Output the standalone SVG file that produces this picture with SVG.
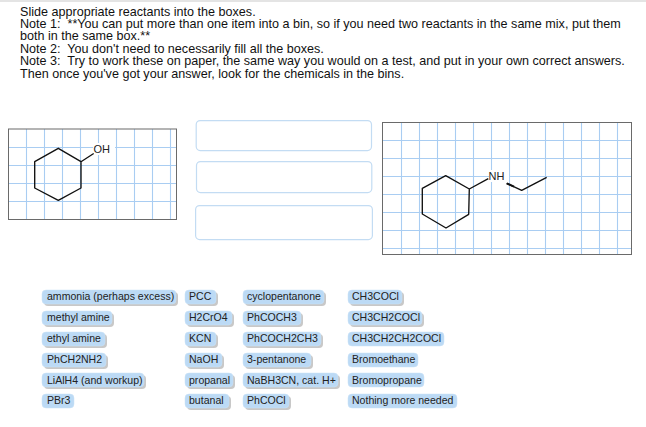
<svg xmlns="http://www.w3.org/2000/svg" width="646" height="427" viewBox="0 0 646 427">
<style>
text{font-family:"Liberation Sans",Arial,sans-serif;fill:#111}
.n{font-size:12.58px}
.c{font-size:10.55px;fill:#222}
.l{font-size:11px;fill:#222}
.f{fill:#bcdaf5;stroke:#cbe2f7;stroke-width:.5}
.s{fill:#b0b0b0;opacity:.7}
.b{fill:#fff;stroke:#c3dcf3;stroke-width:1.2}
.g{stroke:#a9cdf2;stroke-width:1.1;fill:none}
.o{fill:none;stroke:#6a6a6a;stroke-width:1}
.m{fill:none;stroke:#111;stroke-width:1.35;stroke-linejoin:round}
</style>
<defs>
<path id="g1" class="g" d="M26.5 129V219M44.5 129V219M62.5 129V219M80.5 129V219M98.5 129V219M116.5 129V219M134.5 129V219M152.5 129V219M170.5 129V219M8 147.5H176M8 165.5H176M8 183.5H176M8 201.5H176"/>
<path id="g2" class="g" d="M401.5 122V254M419.5 122V254M437.5 122V254M455.5 122V254M473.5 122V254M491.5 122V254M509.5 122V254M527.5 122V254M545.5 122V254M563.5 122V254M581.5 122V254M599.5 122V254M617.5 122V254M382 140.5H632M382 158.5H632M382 176.5H632M382 194.5H632M382 212.5H632M382 230.5H632M382 248.5H632"/>
</defs>
<rect width="646" height="427" fill="#fff"/>
<rect width="646" height="2" fill="#e4e4e4"/>
<g id="instructions">
<text class="n" x="20" y="15.5">Slide appropriate reactants into the boxes.</text>
<text class="n" x="20" y="27.9">Note 1:&#160; **You can put more than one item into a bin, so if you need two reactants in the same mix, put them</text>
<text class="n" x="20" y="40.3">both in the same box.**</text>
<text class="n" x="20" y="52.7">Note 2:&#160; You don't need to necessarily fill all the boxes.</text>
<text class="n" x="20" y="65.1">Note 3:&#160; Try to work these on paper, the same way you would on a test, and put in your own correct answers.</text>
<text class="n" x="20" y="77.5">Then once you've got your answer, look for the chemicals in the bins.</text>
</g>
<g id="reactant">
<use href="#g1"/>
<rect class="o" x="8.5" y="129" width="168" height="90.5"/>
<rect x="93" y="143" width="22" height="12" fill="#fff"/>
<path class="m" d="M58.3 148.3L81 161.7V188L58.3 200.3L34.7 188V161.7ZM81 161.7L93.7 153.5"/>
<text class="l" x="93.5" y="153">OH</text>
</g>
<g id="box1"><rect class="b" x="196.2" y="120.6" width="175.3" height="30" rx="4"/></g>
<g id="box2"><rect class="b" x="196.5" y="161.6" width="175.3" height="31" rx="4"/></g>
<g id="box3"><rect class="b" x="195.6" y="205.6" width="176.8" height="34" rx="4"/></g>
<g id="product">
<use href="#g2"/>
<rect class="o" x="382.5" y="122.5" width="249" height="132"/>
<rect x="489" y="170" width="20" height="12" fill="#fff"/>
<path class="m" d="M445.7 175.7L469.3 189L468.7 214.3L446 228L422.3 214V188.3ZM469.3 189L488.3 178.6M506.7 183.3L521.7 190.3L546.7 177.3"/>
<path d="M506.7 183.3L514 186.7" stroke="#111" stroke-width="2" fill="none"/>
<text class="l" x="488.5" y="180">NH</text>
</g>
<g id="chips">
<g id="c1"><rect class="s" x="44" y="292" width="134" height="14" rx="4"/><rect class="f" x="42" y="290" width="134" height="14" rx="4"/><text class="c" x="47" y="300">ammonia (perhaps excess)</text></g>
<g id="c2"><rect class="s" x="44" y="313" width="70" height="14" rx="4"/><rect class="f" x="42" y="311" width="70" height="14" rx="4"/><text class="c" x="47" y="321">methyl amine</text></g>
<g id="c3"><rect class="s" x="44" y="334" width="63" height="14" rx="4"/><rect class="f" x="42" y="332" width="63" height="14" rx="4"/><text class="c" x="47" y="342">ethyl amine</text></g>
<g id="c4"><rect class="s" x="44" y="355" width="64" height="14" rx="4"/><rect class="f" x="42" y="353" width="64" height="14" rx="4"/><text class="c" x="47" y="363">PhCH2NH2</text></g>
<g id="c5"><rect class="s" x="44" y="375" width="102" height="14" rx="4"/><rect class="f" x="42" y="373" width="102" height="14" rx="4"/><text class="c" x="47" y="384">LiAlH4 (and workup)</text></g>
<g id="c6"><rect class="f" x="42" y="394" width="32" height="14" rx="4"/><text class="c" x="47" y="404">PBr3</text></g>
<g id="c7"><rect class="s" x="187" y="292" width="31" height="14" rx="4"/><rect class="f" x="185" y="290" width="31" height="14" rx="4"/><text class="c" x="189" y="300">PCC</text></g>
<g id="c8"><rect class="s" x="187" y="313" width="47" height="14" rx="4"/><rect class="f" x="185" y="311" width="47" height="14" rx="4"/><text class="c" x="189" y="321">H2CrO4</text></g>
<g id="c9"><rect class="s" x="187" y="334" width="31" height="14" rx="4"/><rect class="f" x="185" y="332" width="31" height="14" rx="4"/><text class="c" x="189" y="342">KCN</text></g>
<g id="c10"><rect class="s" x="187" y="355" width="37" height="14" rx="4"/><rect class="f" x="185" y="353" width="37" height="14" rx="4"/><text class="c" x="189" y="363">NaOH</text></g>
<g id="c11"><rect class="s" x="187" y="375" width="48" height="14" rx="4"/><rect class="f" x="185" y="373" width="48" height="14" rx="4"/><text class="c" x="189" y="384">propanal</text></g>
<g id="c12"><rect class="s" x="187" y="396" width="44" height="14" rx="4"/><rect class="f" x="185" y="394" width="44" height="14" rx="4"/><text class="c" x="189" y="404">butanal</text></g>
<g id="c13"><rect class="s" x="245" y="292" width="81" height="14" rx="4"/><rect class="f" x="243" y="290" width="81" height="14" rx="4"/><text class="c" x="247" y="300">cyclopentanone</text></g>
<g id="c14"><rect class="s" x="245" y="313" width="58" height="14" rx="4"/><rect class="f" x="243" y="311" width="58" height="14" rx="4"/><text class="c" x="247" y="321">PhCOCH3</text></g>
<g id="c15"><rect class="s" x="245" y="334" width="78" height="14" rx="4"/><rect class="f" x="243" y="332" width="78" height="14" rx="4"/><text class="c" x="247" y="342">PhCOCH2CH3</text></g>
<g id="c16"><rect class="s" x="245" y="355" width="68" height="14" rx="4"/><rect class="f" x="243" y="353" width="68" height="14" rx="4"/><text class="c" x="247" y="363">3-pentanone</text></g>
<g id="c17"><rect class="s" x="245" y="375" width="95" height="14" rx="4"/><rect class="f" x="243" y="373" width="95" height="14" rx="4"/><text class="c" x="247" y="384">NaBH3CN, cat. H+</text></g>
<g id="c18"><rect class="s" x="245" y="396" width="46" height="14" rx="4"/><rect class="f" x="243" y="394" width="46" height="14" rx="4"/><text class="c" x="247" y="404">PhCOCl</text></g>
<g id="c19"><rect class="s" x="350" y="292" width="54" height="14" rx="4"/><rect class="f" x="348" y="290" width="54" height="14" rx="4"/><text class="c" x="352" y="300">CH3COCl</text></g>
<g id="c20"><rect class="s" x="350" y="313" width="74" height="14" rx="4"/><rect class="f" x="348" y="311" width="74" height="14" rx="4"/><text class="c" x="352" y="321">CH3CH2COCl</text></g>
<g id="c21"><rect class="f" x="348" y="332" width="96" height="14" rx="4"/><text class="c" x="352" y="342">CH3CH2CH2COCl</text></g>
<g id="c22"><rect class="f" x="348" y="353" width="70" height="14" rx="4"/><text class="c" x="352" y="363">Bromoethane</text></g>
<g id="c23"><rect class="f" x="348" y="373" width="76" height="14" rx="4"/><text class="c" x="352" y="384">Bromopropane</text></g>
<g id="c24"><rect class="f" x="348" y="394" width="109" height="14" rx="4"/><text class="c" x="352" y="404">Nothing more needed</text></g>
</g>
</svg>
